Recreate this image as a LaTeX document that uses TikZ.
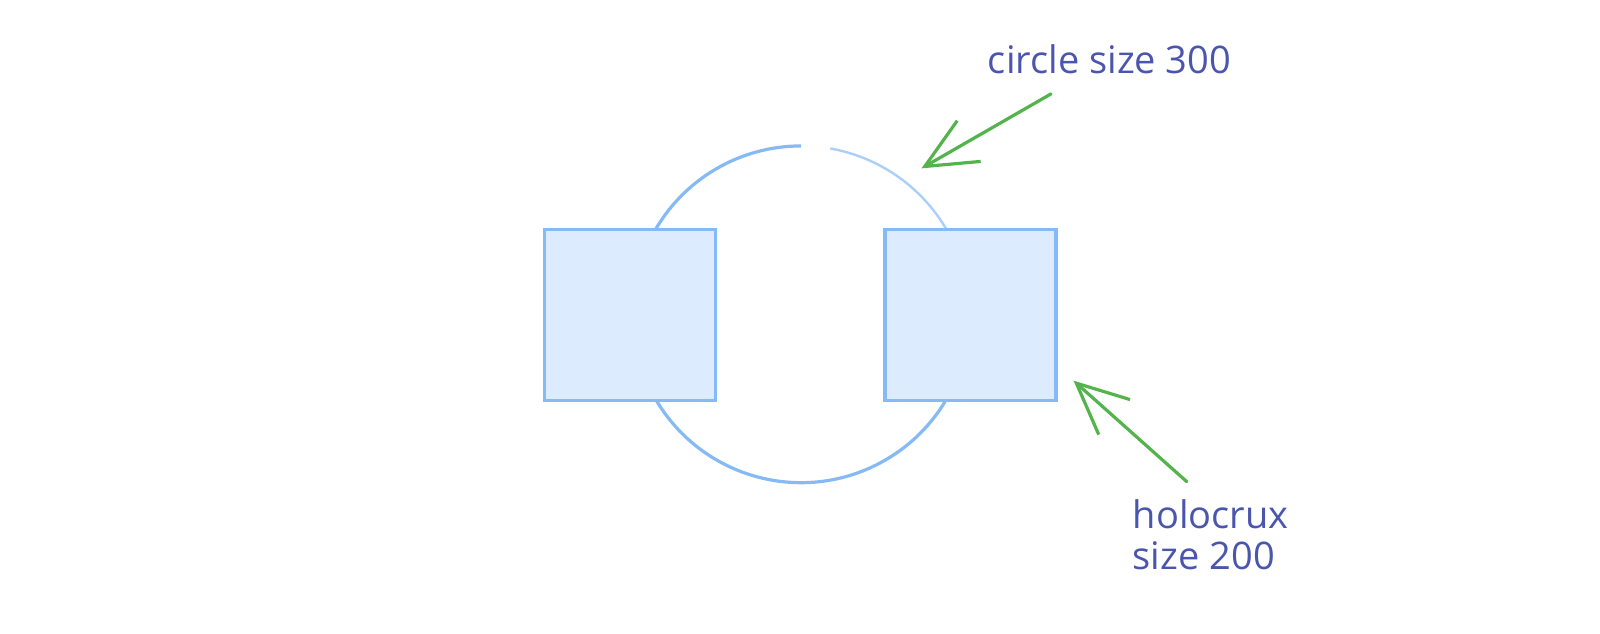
\documentclass[tikz,border=0pt]{standalone}
\usepackage{fontspec}
\setmainfont{Open Sans}
\usepackage{tikz}
\usetikzlibrary{arrows.meta}
\usepackage{xcolor}
\definecolor{shapeblue}{HTML}{86BAF6}
\definecolor{shapefill}{HTML}{DCEBFE}
\definecolor{arrowgreen}{HTML}{52B44B}
\definecolor{labelblue}{HTML}{4A55AE}

\begin{document}
\begin{tikzpicture}[x=1.0204pt,y=-1.0204pt,
    box/.style={draw=shapeblue, fill=shapefill, line width=3.2pt, minimum size=171pt, inner sep=0pt},
    pointer/.style={draw=arrowgreen, line width=3.2pt, line cap=round,
      -{Straight Barb[length=51pt,width=47pt,line width=3.2pt]}},
    note/.style={text=labelblue, font=\fontsize{38}{41}\selectfont, inner sep=0pt, align=left}]
  \useasboundingbox (0,0) rectangle (1568,621.3);

  % 圆
  \coordinate (ring) at (785,308);
  \draw[shapeblue, line width=3.2pt] (ring) ++(-30:165) arc (-30:270:165);
  \draw[shapeblue!70, line width=2.4pt] (ring) ++(-80:165) arc (-80:-30:165);

  % 方块
  \node[box] (boxL) at (617.5,309) {};
  \node[box] (boxR) at (951,309) {};

  % 标注
  \node[note, anchor=west] (ringnote) at (968,58) {circle size 300};
  \node[note, anchor=west] (boxnote) at (1110,524) {holocrux\\size 200};

  % 箭头
  \coordinate (ringtail) at (1030,92);
  \coordinate (ringtip) at (903,165);
  \coordinate (boxtail) at (1163,472);
  \coordinate (boxtip) at (1052,373);
  \draw[pointer] (ringtail) -- (ringtip);
  \draw[pointer] (boxtail) -- (boxtip);
\end{tikzpicture}
\end{document}
